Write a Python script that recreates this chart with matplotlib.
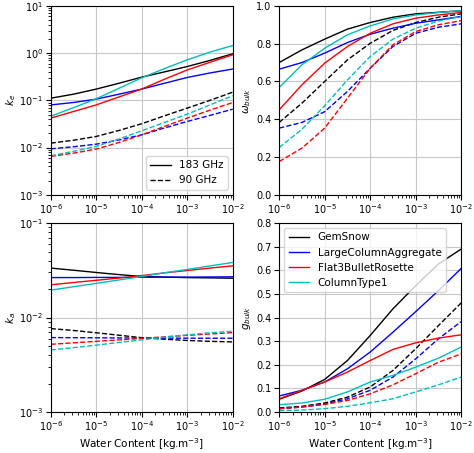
import numpy as np
import matplotlib
matplotlib.use("Agg")
import matplotlib.pyplot as plt

plt.rcParams["font.size"] = 7
plt.rcParams["axes.labelsize"] = 7.5
plt.rcParams["legend.fontsize"] = 7.5

wc = [1e-6, 3.16e-6, 1e-5, 3.16e-5, 1e-4, 3.16e-4, 1e-3, 3.16e-3, 1e-2]

names = ["GemSnow", "LargeColumnAggregate", "Flat3BulletRosette", "ColumnType1"]
colors = ["k", "b", "r", "c"]

# extinction, 183 GHz / 90 GHz
ke_183 = [
    [0.111, 0.135, 0.173, 0.23, 0.31, 0.40, 0.52, 0.70, 0.97],
    [0.080, 0.090, 0.106, 0.135, 0.173, 0.23, 0.305, 0.38, 0.46],
    [0.042, 0.058, 0.080, 0.118, 0.173, 0.28, 0.44, 0.64, 0.92],
    [0.046, 0.070, 0.108, 0.18, 0.30, 0.47, 0.72, 1.05, 1.45],
]
ke_90 = [
    [0.0124, 0.0143, 0.0172, 0.023, 0.032, 0.047, 0.0685, 0.10, 0.149],
    [0.0094, 0.0104, 0.0118, 0.0145, 0.0186, 0.026, 0.0357, 0.048, 0.065],
    [0.0065, 0.0076, 0.0093, 0.0128, 0.0186, 0.028, 0.042, 0.062, 0.090],
    [0.0067, 0.0083, 0.0106, 0.0152, 0.0227, 0.034, 0.051, 0.080, 0.125],
]

# single scattering albedo
w_183 = [
    [0.70, 0.767, 0.824, 0.877, 0.912, 0.94, 0.958, 0.966, 0.974],
    [0.665, 0.70, 0.75, 0.806, 0.85, 0.882, 0.908, 0.926, 0.944],
    [0.45, 0.582, 0.697, 0.785, 0.855, 0.905, 0.935, 0.952, 0.965],
    [0.568, 0.688, 0.776, 0.847, 0.894, 0.931, 0.952, 0.965, 0.975],
]
w_90 = [
    [0.383, 0.485, 0.60, 0.714, 0.802, 0.87, 0.912, 0.94, 0.958],
    [0.353, 0.383, 0.44, 0.547, 0.67, 0.785, 0.855, 0.887, 0.905],
    [0.176, 0.247, 0.353, 0.511, 0.67, 0.794, 0.864, 0.90, 0.922],
    [0.25, 0.347, 0.471, 0.608, 0.732, 0.824, 0.882, 0.92, 0.944],
]

# absorption
ka_183 = [
    [0.0334, 0.0317, 0.0300, 0.0285, 0.0272, 0.0268, 0.0265, 0.0263, 0.0261],
    [0.0265, 0.0265, 0.0266, 0.0266, 0.0267, 0.0268, 0.0268, 0.0269, 0.0270],
    [0.0222, 0.0235, 0.0248, 0.0262, 0.0278, 0.0297, 0.0315, 0.0334, 0.0353],
    [0.0195, 0.0212, 0.0230, 0.0250, 0.0272, 0.0298, 0.0323, 0.0352, 0.0383],
]
ka_90 = [
    [0.00764, 0.00730, 0.00690, 0.00650, 0.00612, 0.00590, 0.00572, 0.00560, 0.00552],
    [0.00614, 0.00612, 0.00610, 0.00608, 0.00607, 0.00606, 0.00605, 0.00604, 0.00604],
    [0.00521, 0.00540, 0.00560, 0.00580, 0.00602, 0.00625, 0.00648, 0.00670, 0.00693],
    [0.00454, 0.00480, 0.00510, 0.00545, 0.00580, 0.00620, 0.00655, 0.00690, 0.00716],
]

# asymmetry parameter
g_183 = [
    [0.054, 0.089, 0.138, 0.218, 0.324, 0.437, 0.535, 0.627, 0.69],
    [0.068, 0.092, 0.127, 0.183, 0.254, 0.338, 0.425, 0.514, 0.608],
    [0.056, 0.092, 0.127, 0.169, 0.218, 0.265, 0.293, 0.313, 0.327],
    [0.031, 0.038, 0.054, 0.085, 0.127, 0.155, 0.19, 0.228, 0.275],
]
g_90 = [
    [0.017, 0.024, 0.038, 0.063, 0.106, 0.176, 0.268, 0.366, 0.462],
    [0.014, 0.021, 0.034, 0.056, 0.092, 0.148, 0.225, 0.31, 0.383],
    [0.014, 0.021, 0.032, 0.049, 0.077, 0.115, 0.162, 0.211, 0.246],
    [0.006, 0.008, 0.014, 0.024, 0.039, 0.056, 0.085, 0.115, 0.148],
]

fig = plt.figure(figsize=(4.74, 4.53), dpi=100)
ax1 = fig.add_axes([0.107, 0.570, 0.384, 0.417])
ax2 = fig.add_axes([0.589, 0.570, 0.384, 0.417])
ax3 = fig.add_axes([0.107, 0.0905, 0.384, 0.417])
ax4 = fig.add_axes([0.589, 0.0905, 0.384, 0.417])

panels = [(ax1, ke_183, ke_90), (ax2, w_183, w_90),
          (ax3, ka_183, ka_90), (ax4, g_183, g_90)]
for ax, s183, s90 in panels:
    for i in range(4):
        ax.plot(wc, s183[i], color=colors[i], lw=1.0, label=names[i])
        ax.plot(wc, s90[i], color=colors[i], lw=1.0, ls="--")
    ax.set_xscale("log")
    ax.set_xlim(1e-6, 1e-2)
    ax.grid(True, which="major", color="#c8c8c8", lw=0.8)
    ax.tick_params(pad=2)

ax1.set_yscale("log")
ax1.set_ylim(1e-3, 10)
ax1.set_ylabel("$k_e$", labelpad=1)
h1, = ax1.plot([], [], "k-", lw=1.0, label="183 GHz")
h2, = ax1.plot([], [], "k--", lw=1.0, label="90 GHz")
ax1.legend(handles=[h1, h2], loc="lower right")

ax2.set_ylim(0, 1)
ax2.set_yticks([0.0, 0.2, 0.4, 0.6, 0.8, 1.0])
ax2.set_ylabel(r"$\omega_{bulk}$", labelpad=2)

ax3.set_yscale("log")
ax3.set_ylim(1e-3, 1e-1)
ax3.set_ylabel("$k_a$", labelpad=1)
ax3.set_xlabel("Water Content [kg.m$^{-3}$]", labelpad=2)

ax4.set_ylim(0, 0.8)
ax4.set_yticks(np.arange(0, 0.81, 0.1))
ax4.set_ylabel("$g_{bulk}$", labelpad=2)
ax4.set_xlabel("Water Content [kg.m$^{-3}$]", labelpad=2)
ax4.legend(loc="upper left")

fig.savefig("out.png", dpi=100)
